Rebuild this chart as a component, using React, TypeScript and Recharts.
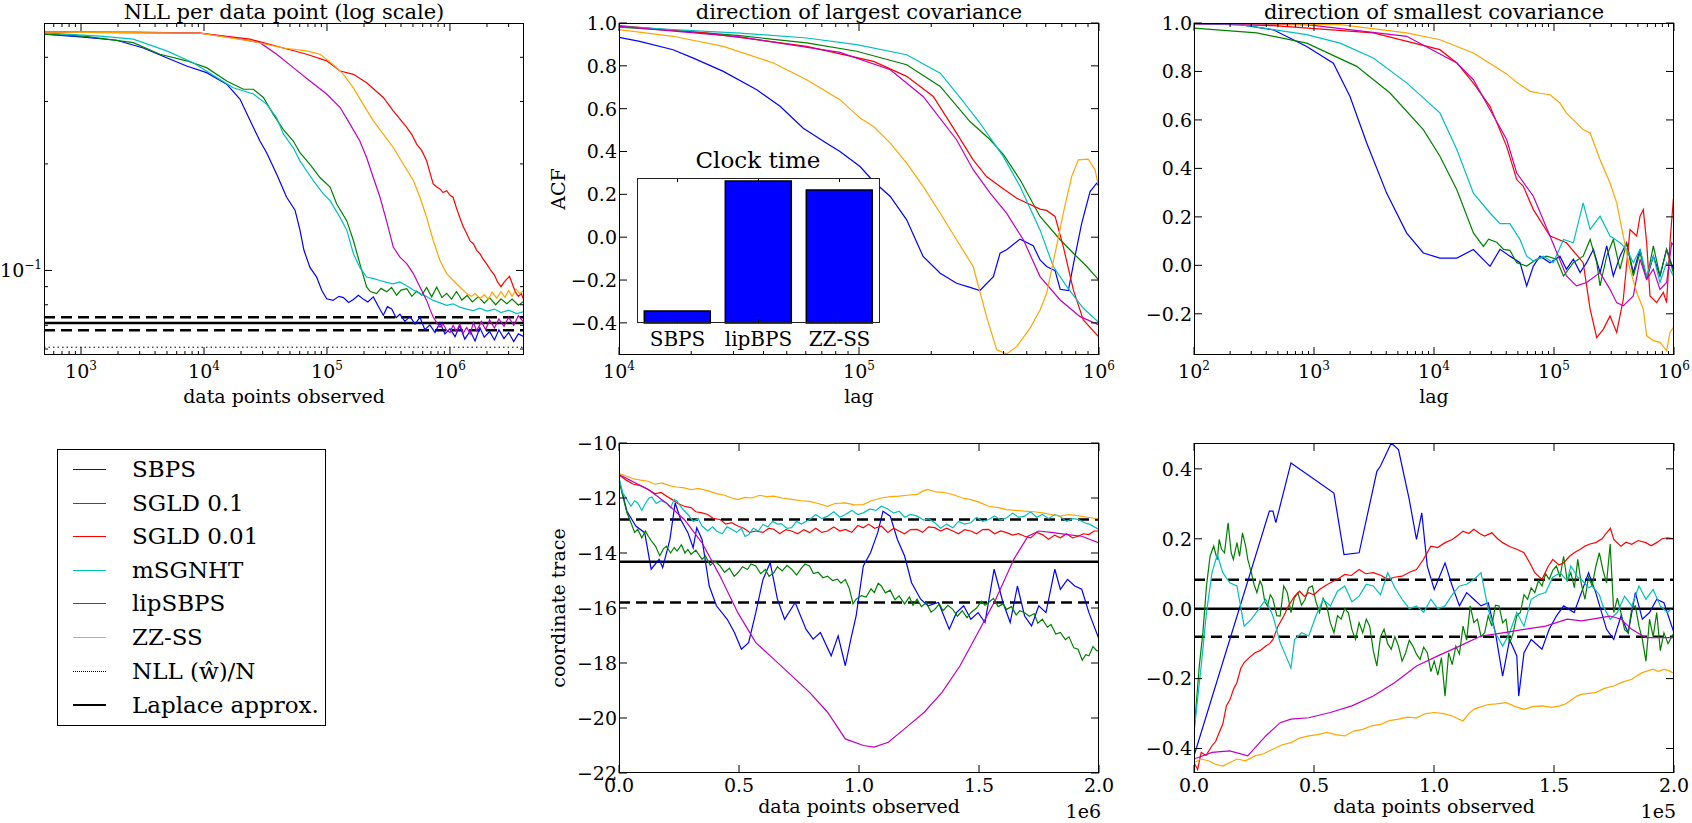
import React from 'react';
import { LineChart, Line, XAxis, YAxis, ReferenceLine, BarChart, Bar } from 'recharts';

const FONT = '"DejaVu Serif", "Liberation Serif", serif';
const C_SBPS = '#0000ff';
const C_SGLD1 = '#008000';
const C_SGLD01 = '#ff0000';
const C_MSGNHT = '#00bfbf';
const C_LIP = '#bf00bf';
const C_ZZ = '#ffa500';

type Pt = [number, number];

// ---- NLL per data point (log-log) ----
const nllSBPS: Pt[] = [
  [504, 0.465], [1045, 0.456], [1950, 0.447], [3210, 0.425], [4970, 0.399], [7220, 0.378], [10500, 0.362],
  [15300, 0.336], [19600, 0.305], [23700, 0.265], [28500, 0.232], [32300, 0.215], [39000, 0.187], [47000, 0.161],
  [55000, 0.148], [60300, 0.13], [65000, 0.114], [72700, 0.102], [82400, 0.0958], [90600, 0.0879], [99400, 0.0832],
  [112000, 0.0823], [125000, 0.0845], [136000, 0.0838], [150000, 0.0812], [164000, 0.0828], [180000, 0.0851],
  [197000, 0.083], [215000, 0.0815], [238000, 0.0842], [260000, 0.0795], [287000, 0.0747], [310000, 0.079],
  [336000, 0.0778], [365000, 0.0735], [392000, 0.0752], [430000, 0.0718], [473000, 0.0742], [520000, 0.0705],
  [570000, 0.0738], [625000, 0.068], [687000, 0.0702], [755000, 0.0668], [830000, 0.0712], [910000, 0.0662],
  [1.0e6, 0.0685], [1.1e6, 0.065], [1.2e6, 0.0698], [1.32e6, 0.064], [1.46e6, 0.0675], [1.6e6, 0.0632],
  [1.75e6, 0.069], [1.9e6, 0.0648], [2.1e6, 0.0672], [2.3e6, 0.0636], [2.5e6, 0.068], [2.75e6, 0.0642],
  [3.0e6, 0.0668], [3.3e6, 0.063], [3.6e6, 0.0662], [4.0e6, 0.065],
];
const nllSGLD1: Pt[] = [
  [504, 0.465], [1045, 0.459], [1620, 0.45], [2660, 0.44], [4380, 0.408], [7220, 0.391], [10500, 0.374],
  [15300, 0.343], [20900, 0.325], [25200, 0.325], [30400, 0.308], [36600, 0.276], [44200, 0.25], [53200, 0.232],
  [60300, 0.215], [72700, 0.1995], [87700, 0.183], [106000, 0.172], [120000, 0.154], [145000, 0.138],
  [164000, 0.1215], [185000, 0.1045], [210000, 0.0898], [225000, 0.0872], [253000, 0.086], [275000, 0.089],
  [305000, 0.087], [335000, 0.0895], [368000, 0.0851], [400000, 0.088], [445000, 0.0888], [490000, 0.0845],
  [536000, 0.0875], [590000, 0.0852], [646000, 0.0895], [710000, 0.0842], [780000, 0.0898], [860000, 0.0838],
  [940000, 0.0862], [1.03e6, 0.083], [1.13e6, 0.0872], [1.25e6, 0.0825], [1.38e6, 0.085], [1.52e6, 0.0815],
  [1.7e6, 0.0842], [1.9e6, 0.0808], [2.1e6, 0.0838], [2.35e6, 0.08], [2.6e6, 0.0832], [2.9e6, 0.0805],
  [3.2e6, 0.083], [3.6e6, 0.0798], [4.0e6, 0.0818],
];
const nllSGLD01: Pt[] = [
  [504, 0.471], [9270, 0.468], [23700, 0.45], [44200, 0.425], [68400, 0.408], [99400, 0.391], [128000, 0.366],
  [164000, 0.358], [210000, 0.339], [287000, 0.308], [346000, 0.2825], [445000, 0.2535], [490000, 0.242],
  [536000, 0.2275], [590000, 0.218], [646000, 0.204], [690000, 0.188], [731000, 0.1755], [780000, 0.172],
  [830000, 0.17], [880000, 0.166], [940000, 0.168], [1.0e6, 0.163], [1.06e6, 0.161], [1.13e6, 0.15],
  [1.2e6, 0.1413], [1.28e6, 0.133], [1.37e6, 0.127], [1.46e6, 0.121], [1.55e6, 0.119], [1.65e6, 0.114],
  [1.75e6, 0.1115], [1.85e6, 0.108], [2.0e6, 0.104], [2.15e6, 0.1], [2.3e6, 0.097], [2.45e6, 0.0925],
  [2.6e6, 0.09], [2.75e6, 0.0925], [2.9e6, 0.0945], [3.05e6, 0.0962], [3.2e6, 0.092], [3.4e6, 0.087],
  [3.6e6, 0.0845], [3.8e6, 0.086], [4.0e6, 0.0822],
];
const nllMSGNHT: Pt[] = [
  [504, 0.469], [1430, 0.459], [2660, 0.45], [4970, 0.417], [8180, 0.386], [12700, 0.351], [17300, 0.328],
  [25200, 0.315], [32300, 0.295], [39000, 0.27], [44200, 0.243], [53200, 0.222], [60300, 0.204], [68400, 0.191],
  [77400, 0.1794], [93400, 0.1645], [106000, 0.1575], [128000, 0.141], [145000, 0.13], [164000, 0.1115],
  [185000, 0.102], [210000, 0.0958], [240000, 0.0948], [270000, 0.0937], [305000, 0.0925], [346000, 0.0917],
  [390000, 0.0928], [445000, 0.0905], [500000, 0.0882], [570000, 0.086], [640000, 0.0845], [731000, 0.0823],
  [830000, 0.081], [940000, 0.0797], [1.06e6, 0.0805], [1.2e6, 0.0788], [1.37e6, 0.0778], [1.55e6, 0.077],
  [1.75e6, 0.0782], [2.0e6, 0.0768], [2.3e6, 0.0778], [2.6e6, 0.076], [3.0e6, 0.0772], [3.5e6, 0.0755],
  [4.0e6, 0.0765],
];
const nllLip: Pt[] = [
  [504, 0.471], [2660, 0.471], [9270, 0.468], [17300, 0.454], [28500, 0.44], [39000, 0.408], [53200, 0.374],
  [72700, 0.343], [99400, 0.315], [128000, 0.2885], [154000, 0.259], [185000, 0.232], [210000, 0.2085],
  [238000, 0.183], [270000, 0.161], [305000, 0.138], [346000, 0.1164], [392000, 0.109], [445000, 0.1045],
  [504000, 0.098], [570000, 0.0898], [646000, 0.0823], [690000, 0.0775], [731000, 0.0739], [780000, 0.0712],
  [830000, 0.0692], [880000, 0.0705], [940000, 0.0678], [1.0e6, 0.0668], [1.06e6, 0.07], [1.13e6, 0.0672],
  [1.2e6, 0.0705], [1.28e6, 0.0665], [1.37e6, 0.069], [1.46e6, 0.0662], [1.55e6, 0.0712], [1.65e6, 0.0675],
  [1.8e6, 0.0718], [1.95e6, 0.068], [2.1e6, 0.0725], [2.3e6, 0.0688], [2.5e6, 0.073], [2.75e6, 0.0695],
  [3.0e6, 0.0738], [3.3e6, 0.07], [3.6e6, 0.0745], [4.0e6, 0.0712],
];
const nllZZ: Pt[] = [
  [504, 0.471], [9270, 0.468], [23700, 0.445], [44200, 0.425], [68400, 0.417], [87700, 0.408], [112000, 0.382],
  [136000, 0.358], [164000, 0.328], [197000, 0.2945], [238000, 0.265], [287000, 0.2427], [346000, 0.2225],
  [418000, 0.1995], [504000, 0.1795], [570000, 0.161], [646000, 0.1413], [731000, 0.1215], [830000, 0.1067],
  [940000, 0.098], [1.13e6, 0.0917], [1.37e6, 0.086], [1.5e6, 0.0845], [1.6e6, 0.0862], [1.75e6, 0.0832],
  [1.9e6, 0.0855], [2.05e6, 0.0828], [2.2e6, 0.0868], [2.4e6, 0.0835], [2.6e6, 0.0872], [2.8e6, 0.084],
  [3.0e6, 0.0878], [3.2e6, 0.0845], [3.45e6, 0.0885], [3.7e6, 0.086], [4.0e6, 0.088],
];
const nllLaplace = 0.071;
const nllLaplaceBand = [0.0737, 0.0678];
const nllMode = 0.0607;

// ---- ACF, direction of largest covariance ----
const acfBigSBPS: Pt[] = [
  [1e4, 0.933], [12200, 0.914], [16800, 0.875], [20400, 0.836], [27200, 0.774], [37500, 0.688], [46900, 0.611],
  [58600, 0.509], [73300, 0.439], [83300, 0.4], [101000, 0.33], [115000, 0.26], [135000, 0.19], [158000, 0.081],
  [185000, -0.09], [218000, -0.168], [255000, -0.215], [290000, -0.234], [319000, -0.249], [363000, -0.184],
  [387000, -0.075], [412000, -0.059], [469000, -0.009], [532000, -0.04], [568000, -0.106], [605000, -0.137],
  [656000, -0.156], [689000, -0.243], [745000, -0.249], [794000, -0.09], [847000, 0.065], [918000, 0.213],
  [978000, 0.252], [1e6, 0.237],
];
const acfBigSGLD1: Pt[] = [
  [1e4, 0.981], [16800, 0.966], [31900, 0.941], [60500, 0.907], [97800, 0.868], [158000, 0.805], [218000, 0.704],
  [290000, 0.54], [352000, 0.455], [400000, 0.385], [469000, 0.268], [568000, 0.097], [689000, -0.012],
  [782000, -0.075], [889000, -0.137], [1e6, -0.2],
];
const acfBigSGLD01: Pt[] = [
  [1e4, 0.988], [23200, 0.953], [60500, 0.891], [115000, 0.821], [158000, 0.751], [204000, 0.657],
  [255000, 0.486], [299000, 0.361], [340000, 0.283], [387000, 0.237], [454000, 0.182], [568000, 0.131],
  [605000, 0.125], [656000, 0.097], [710000, -0.044], [782000, -0.246], [860000, -0.386], [1e6, -0.467],
];
const acfBigMSGNHT: Pt[] = [
  [1e4, 0.984], [16800, 0.969], [31900, 0.953], [60500, 0.93], [97800, 0.899], [158000, 0.852], [218000, 0.766],
  [268000, 0.642], [319000, 0.533], [399000, 0.377], [469000, 0.237], [568000, 0.034], [645000, -0.137],
  [733000, -0.23], [860000, -0.332], [1e6, -0.399],
];
const acfBigLip: Pt[] = [
  [1e4, 0.984], [31900, 0.935], [83300, 0.863], [135000, 0.782], [185000, 0.657], [255000, 0.455],
  [299000, 0.315], [352000, 0.206], [412000, 0.112], [484000, -0.012], [568000, -0.184], [689000, -0.293],
  [834000, -0.371], [1e6, -0.41],
];
const acfBigZZ: Pt[] = [
  [1e4, 0.969], [16800, 0.938], [27200, 0.891], [44000, 0.813], [60500, 0.735], [83300, 0.642], [101000, 0.556],
  [115000, 0.517], [135000, 0.439], [158000, 0.346], [185000, 0.237], [218000, 0.112], [255000, -0.012],
  [299000, -0.137], [340000, -0.371], [375000, -0.526], [412000, -0.545], [454000, -0.511], [516000, -0.425],
  [568000, -0.34], [605000, -0.262], [656000, -0.075], [710000, 0.112], [769000, 0.283], [820000, 0.361],
  [902000, 0.364], [962000, 0.315], [1e6, 0.229],
];

// ---- ACF, direction of smallest covariance ----
const acfSmallSBPS: Pt[] = [
  [100, 0.997], [242, 0.993], [458, 0.972], [869, 0.903], [1450, 0.834], [1995, 0.697], [2750, 0.505],
  [4030, 0.298], [5920, 0.133], [8150, 0.051], [11200, 0.03], [15500, 0.03], [21300, 0.065], [29300, -0.004],
  [35500, 0.066], [42900, 0.038], [52100, 0.011], [59200, -0.085], [67300, -0.003], [76400, 0.038],
  [92600, 0.011], [112000, 0.038], [127000, -0.016], [145000, 0.025], [165000, -0.03], [187000, 0.011],
  [213000, 0.066], [242000, -0.03], [275000, 0.08], [312000, -0.044], [355000, 0.038], [403000, 0.093],
  [458000, -0.03], [521000, 0.066], [592000, -0.058], [673000, 0.038], [764000, -0.044], [868000, 0.066],
  [987000, -0.016], [1e6, 0.0],
];
const acfSmallSGLD1: Pt[] = [
  [100, 0.979], [333, 0.959], [869, 0.917], [2270, 0.821], [4300, 0.711], [8150, 0.56], [11200, 0.45],
  [15500, 0.312], [21300, 0.134], [25800, 0.078], [28500, 0.108], [33300, 0.095], [38000, 0.066],
  [42900, 0.062], [48900, 0.011], [59200, -0.003], [71700, 0.025], [86900, 0.038], [105000, 0.025],
  [120000, -0.044], [145000, 0.011], [175000, 0.038], [200000, 0.107], [227000, 0.011], [242000, -0.085],
  [275000, 0.038], [312000, 0.107], [355000, -0.016], [403000, 0.093], [458000, -0.044], [521000, 0.052],
  [592000, -0.058], [673000, 0.08], [764000, -0.044], [868000, 0.066], [987000, -0.03], [1e6, 0.0],
];
const acfSmallSGLD01: Pt[] = [
  [100, 0.997], [458, 0.989], [3120, 0.959], [11200, 0.89], [15500, 0.835], [21300, 0.752], [29300, 0.656],
  [40300, 0.491], [48900, 0.354], [55500, 0.326], [67300, 0.23], [92600, 0.121], [127000, 0.093],
  [175000, 0.011], [200000, -0.181], [227000, -0.298], [258000, -0.263], [293000, -0.209], [333000, -0.277],
  [378000, -0.14], [430000, 0.148], [489000, 0.121], [521000, 0.203], [555000, 0.23], [592000, 0.093],
  [631000, -0.126], [717000, -0.154], [815000, -0.112], [868000, -0.154], [926000, 0.093], [987000, 0.272],
  [1e6, 0.28],
];
const acfSmallMSGNHT: Pt[] = [
  [100, 0.997], [242, 0.993], [869, 0.952], [1650, 0.917], [3120, 0.856], [5920, 0.753], [11200, 0.629],
  [15500, 0.478], [21300, 0.298], [29300, 0.216], [35500, 0.172], [42900, 0.172], [52100, 0.106],
  [59200, 0.038], [67300, 0.018], [81500, 0.038], [98700, 0.011], [120000, 0.107], [145000, 0.093],
  [175000, 0.258], [200000, 0.148], [242000, 0.203], [293000, 0.121], [355000, 0.093], [403000, 0.066],
  [458000, 0.011], [521000, 0.066], [592000, -0.044], [673000, 0.038], [764000, -0.071], [868000, 0.011],
  [987000, -0.044], [1e6, -0.03],
];
const acfSmallLip: Pt[] = [
  [100, 0.997], [869, 0.993], [5920, 0.945], [15500, 0.835], [21300, 0.766], [29300, 0.642], [40300, 0.519],
  [48900, 0.381], [67300, 0.285], [92600, 0.121], [127000, -0.044], [154000, -0.085], [187000, -0.071],
  [242000, -0.03], [293000, -0.099], [333000, -0.154], [378000, -0.167], [458000, -0.126], [521000, 0.025],
  [592000, -0.058], [673000, -0.016], [764000, -0.099], [868000, -0.071], [957000, 0.093], [1e6, 0.08],
];
const acfSmallZZ: Pt[] = [
  [100, 1.0], [1650, 0.993], [5920, 0.959], [11200, 0.931], [21300, 0.876], [30000, 0.83], [40300, 0.79],
  [48900, 0.755], [63100, 0.718], [76400, 0.71], [92600, 0.704], [112000, 0.67], [127000, 0.628],
  [175000, 0.56], [200000, 0.546], [242000, 0.436], [293000, 0.34], [333000, 0.258], [378000, 0.121],
  [430000, -0.016], [489000, -0.112], [555000, -0.181], [592000, -0.291], [673000, -0.311], [764000, -0.318],
  [868000, -0.353], [926000, -0.277], [987000, -0.257], [1e6, -0.25],
];

// ---- coordinate trace, largest covariance (x in units of 1e6) ----
const traceSBPS: Pt[] = [
  [0, -11.33], [0.033, -12.48], [0.07, -13.02], [0.107, -13.26], [0.134, -14.59], [0.167, -14.23], [0.182, -14.53],
  [0.212, -13.51], [0.234, -12.18], [0.257, -12.78], [0.287, -13.26], [0.309, -13.81], [0.324, -13.08],
  [0.346, -13.51], [0.376, -15.2], [0.406, -15.92], [0.451, -16.41], [0.481, -16.89], [0.51, -17.5],
  [0.54, -17.26], [0.57, -16.17], [0.6, -14.96], [0.63, -14.35], [0.66, -15.68], [0.69, -16.41], [0.734, -15.8],
  [0.779, -16.77], [0.809, -17.13], [0.839, -16.89], [0.884, -17.74], [0.913, -17.01], [0.943, -18.1],
  [0.966, -17.13], [0.988, -16.29], [1.018, -14.47], [1.048, -13.99], [1.078, -13.26], [1.1, -12.48],
  [1.13, -12.66], [1.16, -13.51], [1.19, -14.11], [1.219, -15.08], [1.257, -15.68], [1.287, -15.92],
  [1.331, -15.8], [1.376, -16.77], [1.406, -16.17], [1.436, -15.92], [1.466, -16.41], [1.496, -16.17],
  [1.525, -16.53], [1.563, -14.59], [1.6, -15.8], [1.63, -16.53], [1.66, -15.2], [1.69, -16.29], [1.719, -16.65],
  [1.749, -15.92], [1.779, -16.17], [1.816, -14.59], [1.839, -15.32], [1.869, -14.96], [1.899, -15.2],
  [1.928, -15.32], [1.958, -16.17], [2.0, -17.13],
];
const traceSGLD1: Pt[] = [
  [0, -11.33], [0.015, -11.9], [0.033, -12.54], [0.05, -12.9], [0.065, -13.25], [0.078, -13.14], [0.095, -13.45],
  [0.11, -13.2], [0.122, -13.39], [0.138, -13.6], [0.152, -13.75], [0.17, -14.1], [0.185, -13.85], [0.197, -13.75],
  [0.215, -14.0], [0.23, -13.8], [0.242, -13.93], [0.26, -13.7], [0.275, -14.0], [0.287, -13.87], [0.3, -14.05],
  [0.32, -13.9], [0.346, -14.23], [0.36, -14.1], [0.38, -14.45], [0.4, -14.3], [0.421, -14.47], [0.44, -14.7],
  [0.46, -14.55], [0.48, -14.85], [0.495, -14.72], [0.515, -14.5], [0.535, -14.6], [0.55, -14.4], [0.57, -14.47],
  [0.59, -14.75], [0.61, -14.6], [0.625, -14.85], [0.645, -14.72], [0.66, -14.5], [0.68, -14.65], [0.7, -14.45],
  [0.719, -14.59], [0.74, -14.8], [0.76, -14.55], [0.775, -14.4], [0.794, -14.47], [0.81, -14.75], [0.83, -14.7],
  [0.85, -14.9], [0.869, -14.84], [0.89, -15.0], [0.91, -14.95], [0.925, -15.1], [0.943, -14.96], [0.96, -15.3],
  [0.975, -15.85], [0.988, -15.68], [1.01, -15.55], [1.03, -15.6], [1.05, -15.3], [1.064, -15.44], [1.08, -15.1],
  [1.093, -15.2], [1.11, -15.45], [1.13, -15.35], [1.15, -15.7], [1.167, -15.56], [1.19, -15.85], [1.21, -15.6],
  [1.225, -15.9], [1.242, -15.68], [1.26, -15.95], [1.28, -15.8], [1.3, -16.15], [1.316, -16.05], [1.335, -15.85],
  [1.35, -16.1], [1.37, -15.9], [1.391, -16.05], [1.41, -16.3], [1.43, -16.1], [1.45, -16.35], [1.466, -16.17],
  [1.49, -16.0], [1.51, -15.75], [1.525, -15.9], [1.54, -15.8], [1.56, -15.65], [1.58, -15.95], [1.6, -15.85],
  [1.615, -16.05], [1.635, -15.95], [1.655, -16.25], [1.67, -16.1], [1.69, -16.17], [1.71, -16.3], [1.73, -16.2],
  [1.745, -16.55], [1.764, -16.41], [1.785, -16.7], [1.8, -16.6], [1.82, -16.95], [1.839, -16.89], [1.86, -17.15],
  [1.875, -17.05], [1.895, -17.45], [1.913, -17.5], [1.93, -17.9], [1.945, -17.7], [1.958, -17.74], [1.975, -17.4],
  [1.99, -17.55], [2.0, -17.56],
];
const traceSGLD01: Pt[] = [
  [0, -11.15], [0.03, -11.35], [0.06, -11.5], [0.09, -11.55], [0.122, -11.69], [0.15, -11.85], [0.175, -11.8],
  [0.197, -11.93], [0.22, -12.05], [0.245, -12.2], [0.272, -12.3], [0.3, -12.35], [0.32, -12.5], [0.346, -12.54],
  [0.37, -12.6], [0.395, -12.75], [0.421, -12.78], [0.445, -12.95], [0.47, -12.9], [0.495, -13.02], [0.52, -13.1],
  [0.545, -13.25], [0.57, -13.2], [0.6, -13.25], [0.625, -13.1], [0.645, -13.14], [0.67, -13.3], [0.695, -13.15],
  [0.719, -13.2], [0.745, -13.3], [0.77, -13.15], [0.794, -13.26], [0.82, -13.1], [0.845, -13.25], [0.869, -13.2],
  [0.895, -13.05], [0.92, -13.2], [0.943, -13.14], [0.97, -13.25], [0.995, -13.0], [1.018, -13.08], [1.04, -12.95],
  [1.065, -13.1], [1.093, -13.02], [1.12, -13.25], [1.145, -13.1], [1.167, -13.2], [1.19, -13.3], [1.215, -13.15],
  [1.242, -13.14], [1.265, -13.25], [1.29, -13.05], [1.316, -13.08], [1.34, -13.2], [1.365, -13.1], [1.391, -13.2],
  [1.415, -13.3], [1.44, -13.15], [1.466, -13.2], [1.49, -13.3], [1.515, -13.15], [1.54, -13.14], [1.565, -13.3],
  [1.59, -13.2], [1.615, -13.26], [1.64, -13.35], [1.665, -13.3], [1.69, -13.39], [1.715, -13.45], [1.74, -13.25],
  [1.764, -13.33], [1.79, -13.5], [1.815, -13.35], [1.839, -13.45], [1.865, -13.3], [1.89, -13.45], [1.913, -13.39],
  [1.935, -13.3], [1.958, -13.33], [1.98, -13.2], [2.0, -13.2],
];
const traceMSGNHT: Pt[] = [
  [0, -11.27], [0.015, -11.8], [0.033, -12.06], [0.05, -12.3], [0.065, -12.1], [0.078, -12.18], [0.095, -12.45],
  [0.11, -12.2], [0.125, -12.0], [0.137, -11.96], [0.155, -12.2], [0.175, -12.1], [0.197, -12.18], [0.215, -12.35],
  [0.23, -12.05], [0.242, -12.12], [0.265, -12.4], [0.287, -12.6], [0.31, -12.85], [0.33, -12.75], [0.346, -13.02],
  [0.37, -13.2], [0.39, -13.05], [0.406, -13.2], [0.43, -13.3], [0.45, -13.05], [0.466, -13.12], [0.49, -13.25],
  [0.51, -13.1], [0.525, -13.4], [0.54, -13.33], [0.56, -13.1], [0.58, -13.2], [0.6, -12.96], [0.62, -13.05],
  [0.64, -12.85], [0.66, -12.95], [0.675, -12.93], [0.7, -13.1], [0.719, -13.08], [0.74, -12.85], [0.76, -12.95],
  [0.794, -12.78], [0.82, -12.6], [0.845, -12.75], [0.869, -12.66], [0.895, -12.5], [0.92, -12.7], [0.943, -12.6],
  [0.97, -12.45], [0.995, -12.6], [1.018, -12.54], [1.045, -12.4], [1.07, -12.45], [1.093, -12.3], [1.12, -12.4],
  [1.145, -12.55], [1.167, -12.48], [1.19, -12.7], [1.215, -12.6], [1.242, -12.66], [1.27, -12.8], [1.29, -12.75],
  [1.316, -12.9], [1.34, -13.1], [1.365, -12.95], [1.391, -13.08], [1.415, -12.85], [1.44, -12.95], [1.466, -12.9],
  [1.49, -12.7], [1.515, -12.85], [1.54, -12.78], [1.565, -12.65], [1.59, -12.8], [1.615, -12.72], [1.64, -12.55],
  [1.665, -12.7], [1.69, -12.66], [1.715, -12.5], [1.74, -12.7], [1.764, -12.6], [1.79, -12.75], [1.815, -12.6],
  [1.839, -12.68], [1.865, -12.85], [1.89, -12.75], [1.913, -12.78], [1.94, -12.9], [1.96, -12.95], [1.98, -13.05],
  [2.0, -13.14],
];
const traceLip: Pt[] = [
  [0, -11.15], [0.122, -11.69], [0.197, -12.18], [0.272, -12.78], [0.346, -13.63], [0.421, -14.84], [0.495, -16.17],
  [0.57, -17.26], [0.645, -17.86], [0.719, -18.46], [0.794, -19.07], [0.869, -19.79], [0.943, -20.76],
  [1.018, -21.0], [1.063, -21.06], [1.122, -20.88], [1.197, -20.34], [1.272, -19.79], [1.346, -19.07],
  [1.421, -18.1], [1.496, -16.89], [1.57, -15.68], [1.645, -14.23], [1.704, -13.39], [1.749, -13.2],
  [1.809, -13.26], [1.869, -13.33], [1.928, -13.39], [2.0, -13.63],
];
const traceZZ: Pt[] = [
  [0, -11.11], [0.03, -11.2], [0.06, -11.3], [0.09, -11.35], [0.122, -11.39], [0.15, -11.5], [0.18, -11.45],
  [0.21, -11.55], [0.24, -11.6], [0.272, -11.63], [0.3, -11.7], [0.33, -11.65], [0.376, -11.75], [0.41, -11.85],
  [0.44, -11.9], [0.47, -12.0], [0.495, -12.06], [0.525, -11.98], [0.555, -12.0], [0.585, -11.9], [0.615, -11.95],
  [0.645, -11.93], [0.68, -12.0], [0.72, -12.05], [0.76, -12.1], [0.794, -12.12], [0.83, -12.2], [0.869, -12.3],
  [0.9, -12.2], [0.943, -12.18], [0.98, -12.25], [1.018, -12.24], [1.05, -12.1], [1.093, -12.0], [1.13, -11.95],
  [1.167, -11.93], [1.2, -11.9], [1.242, -11.87], [1.265, -11.75], [1.287, -11.69], [1.32, -11.78], [1.361, -11.81],
  [1.4, -11.9], [1.43, -12.0], [1.466, -12.06], [1.5, -12.15], [1.54, -12.3], [1.58, -12.35], [1.615, -12.42],
  [1.65, -12.45], [1.69, -12.48], [1.73, -12.5], [1.764, -12.54], [1.8, -12.6], [1.839, -12.66], [1.875, -12.6],
  [1.913, -12.64], [1.95, -12.7], [2.0, -12.76],
];
const traceLaplace = -14.32;
const traceLaplaceBand = [-12.78, -15.8];

// ---- coordinate trace, smallest covariance (x in units of 1e5) ----
const resSBPS: Pt[] = [
  [0, -0.421], [0.314, 0.279], [0.329, 0.279], [0.341, 0.246], [0.404, 0.417], [0.583, 0.331], [0.625, 0.155],
  [0.688, 0.16], [0.762, 0.393], [0.777, 0.408], [0.822, 0.474], [0.852, 0.455], [0.897, 0.312], [0.927, 0.198],
  [0.949, 0.274], [0.972, 0.122], [1.001, 0.055], [1.046, 0.131], [1.076, 0.065], [1.106, 0.008], [1.136, 0.046],
  [1.166, 0.027], [1.196, 0.008], [1.226, 0.017], [1.256, -0.069], [1.286, -0.193], [1.315, -0.088],
  [1.345, -0.135], [1.353, -0.25], [1.375, -0.126], [1.405, -0.088], [1.45, -0.116], [1.48, -0.059],
  [1.51, -0.021], [1.54, 0.008], [1.584, -0.011], [1.614, 0.046], [1.644, 0.103], [1.674, 0.046], [1.719, -0.059],
  [1.749, -0.088], [1.779, -0.021], [1.809, -0.069], [1.839, 0.046], [1.868, -0.03], [1.898, -0.011],
  [1.928, 0.027], [1.958, 0.017], [2.0, -0.069],
];
const resSGLD1: Pt[] = [
  [0, -0.354], [0.022, -0.164], [0.037, -0.069], [0.052, 0.065], [0.067, 0.15], [0.082, 0.179], [0.097, 0.14],
  [0.105, 0.198], [0.115, 0.17], [0.127, 0.16], [0.142, 0.246], [0.155, 0.16], [0.164, 0.141], [0.179, 0.189],
  [0.19, 0.15], [0.202, 0.217], [0.215, 0.18], [0.224, 0.141], [0.239, 0.103], [0.25, 0.07], [0.262, 0.046],
  [0.275, 0.08], [0.284, 0.065], [0.295, 0.02], [0.306, 0.008], [0.318, 0.04], [0.329, 0.027], [0.345, -0.02],
  [0.359, -0.021], [0.374, 0.065], [0.389, 0.046], [0.404, -0.011], [0.418, 0.03], [0.433, 0.046], [0.448, 0.01],
  [0.463, 0.027], [0.478, 0.06], [0.493, 0.065], [0.508, 0.02], [0.523, -0.011], [0.538, 0.03], [0.553, 0.008],
  [0.568, -0.04], [0.583, -0.069], [0.598, -0.02], [0.613, -0.03], [0.628, 0.0], [0.643, -0.011], [0.658, -0.06],
  [0.673, -0.088], [0.688, -0.04], [0.703, -0.069], [0.718, -0.03], [0.732, -0.05], [0.747, -0.12], [0.762, -0.164],
  [0.777, -0.08], [0.792, -0.059], [0.807, -0.1], [0.822, -0.116], [0.837, -0.08], [0.852, -0.107], [0.867, -0.15],
  [0.882, -0.126], [0.897, -0.09], [0.912, -0.107], [0.927, -0.13], [0.942, -0.145], [0.957, -0.11],
  [0.972, -0.126], [0.987, -0.18], [1.001, -0.15], [1.016, -0.19], [1.031, -0.14], [1.046, -0.25], [1.061, -0.126],
  [1.076, -0.16], [1.091, -0.107], [1.106, -0.13], [1.121, -0.05], [1.136, -0.09], [1.151, 0.008], [1.166, -0.04],
  [1.181, -0.03], [1.196, -0.08], [1.211, -0.069], [1.226, -0.02], [1.241, -0.05], [1.256, 0.01], [1.271, 0.008],
  [1.286, -0.04], [1.3, -0.03], [1.315, -0.1], [1.33, -0.069], [1.345, -0.02], [1.36, -0.011], [1.375, 0.04],
  [1.39, 0.027], [1.405, 0.06], [1.42, 0.046], [1.435, 0.08], [1.45, 0.065], [1.465, 0.1], [1.48, 0.084],
  [1.495, 0.11], [1.51, 0.122], [1.525, 0.09], [1.54, 0.15], [1.555, 0.08], [1.57, 0.103], [1.585, 0.06],
  [1.599, 0.141], [1.614, 0.07], [1.629, 0.027], [1.644, 0.09], [1.659, 0.065], [1.674, 0.12], [1.689, 0.16],
  [1.704, 0.11], [1.719, 0.074], [1.734, 0.185], [1.749, -0.011], [1.764, 0.03], [1.779, -0.011], [1.794, -0.06],
  [1.809, -0.069], [1.824, 0.0], [1.839, 0.008], [1.854, -0.05], [1.868, -0.088], [1.883, -0.15], [1.898, -0.03],
  [1.913, -0.08], [1.928, -0.011], [1.943, -0.12], [1.958, -0.069], [1.975, -0.1], [2.0, -0.069],
];
const resSGLD01: Pt[] = [
  [0, -0.44], [0.015, -0.46], [0.03, -0.411], [0.05, -0.42], [0.075, -0.392], [0.09, -0.38], [0.105, -0.354],
  [0.12, -0.33], [0.135, -0.278], [0.15, -0.26], [0.165, -0.23], [0.179, -0.211], [0.195, -0.17], [0.209, -0.154],
  [0.23, -0.14], [0.254, -0.126], [0.275, -0.12], [0.299, -0.107], [0.315, -0.1], [0.329, -0.088], [0.35, -0.05],
  [0.374, -0.021], [0.395, 0.01], [0.419, 0.036], [0.44, 0.05], [0.46, 0.035], [0.478, 0.046], [0.5, 0.04],
  [0.523, 0.055], [0.545, 0.065], [0.568, 0.074], [0.6, 0.085], [0.628, 0.098], [0.655, 0.095], [0.688, 0.112],
  [0.715, 0.1], [0.747, 0.103], [0.78, 0.095], [0.807, 0.084], [0.835, 0.09], [0.867, 0.093], [0.9, 0.105],
  [0.927, 0.112], [0.955, 0.14], [0.987, 0.179], [1.015, 0.175], [1.046, 0.189], [1.076, 0.198], [1.1, 0.21],
  [1.121, 0.222], [1.145, 0.215], [1.166, 0.227], [1.19, 0.215], [1.211, 0.208], [1.241, 0.217], [1.265, 0.2],
  [1.286, 0.189], [1.315, 0.178], [1.345, 0.17], [1.375, 0.16], [1.4, 0.13], [1.42, 0.103], [1.45, 0.084],
  [1.475, 0.12], [1.495, 0.141], [1.52, 0.125], [1.54, 0.131], [1.565, 0.15], [1.584, 0.16], [1.61, 0.17],
  [1.629, 0.179], [1.65, 0.185], [1.674, 0.189], [1.7, 0.2], [1.719, 0.217], [1.735, 0.23], [1.749, 0.198],
  [1.779, 0.179], [1.8, 0.19], [1.824, 0.184], [1.85, 0.195], [1.883, 0.189], [1.905, 0.18], [1.928, 0.189],
  [1.95, 0.2], [1.973, 0.203], [2.0, 0.2],
];
const resMSGNHT: Pt[] = [
  [0, -0.354], [0.03, -0.164], [0.052, -0.011], [0.075, 0.103], [0.097, 0.155], [0.12, 0.103], [0.149, 0.074],
  [0.179, 0.065], [0.209, -0.05], [0.239, -0.03], [0.269, -0.002], [0.299, 0.027], [0.329, -0.021],
  [0.359, -0.097], [0.389, -0.145], [0.404, -0.17], [0.419, -0.088], [0.448, -0.069], [0.478, -0.078],
  [0.508, -0.021], [0.538, 0.027], [0.568, 0.008], [0.598, 0.05], [0.628, 0.065], [0.658, 0.02], [0.688, 0.036],
  [0.718, 0.07], [0.747, 0.065], [0.777, 0.04], [0.807, 0.103], [0.837, 0.06], [0.867, 0.027], [0.897, 0.0],
  [0.927, 0.008], [0.957, -0.01], [0.987, 0.027], [1.016, 0.0], [1.046, 0.008], [1.076, 0.04], [1.106, 0.065],
  [1.136, 0.07], [1.166, 0.084], [1.196, 0.103], [1.226, -0.002], [1.256, -0.069], [1.286, -0.107],
  [1.315, -0.069], [1.345, -0.011], [1.375, -0.05], [1.405, 0.027], [1.435, 0.04], [1.465, 0.046], [1.495, 0.09],
  [1.525, 0.103], [1.555, 0.08], [1.57, 0.122], [1.599, 0.09], [1.614, 0.084], [1.644, 0.06], [1.659, 0.065],
  [1.689, 0.04], [1.704, 0.008], [1.734, -0.03], [1.764, -0.011], [1.794, 0.036], [1.824, 0.008], [1.854, 0.065],
  [1.883, 0.027], [1.913, 0.055], [1.943, 0.008], [1.973, -0.011], [2.0, 0.008],
];
const resLip: Pt[] = [
  [0, -0.43], [0.075, -0.411], [0.149, -0.407], [0.224, -0.421], [0.299, -0.364], [0.359, -0.326], [0.404, -0.316],
  [0.478, -0.312], [0.568, -0.297], [0.658, -0.278], [0.747, -0.25], [0.837, -0.211], [0.927, -0.164],
  [1.016, -0.135], [1.106, -0.107], [1.196, -0.078], [1.286, -0.069], [1.375, -0.059], [1.465, -0.05],
  [1.555, -0.03], [1.614, -0.035], [1.659, -0.03], [1.734, -0.021], [1.779, -0.03], [1.824, -0.059],
  [1.883, -0.083], [1.943, -0.083], [2.0, -0.083],
];
const resZZ: Pt[] = [
  [0, -0.44], [0.03, -0.43], [0.06, -0.435], [0.09, -0.445], [0.12, -0.45], [0.15, -0.44], [0.179, -0.43],
  [0.215, -0.435], [0.254, -0.421], [0.29, -0.415], [0.329, -0.402], [0.365, -0.39], [0.404, -0.383],
  [0.44, -0.37], [0.478, -0.364], [0.515, -0.36], [0.553, -0.354], [0.59, -0.36], [0.628, -0.364], [0.665, -0.35],
  [0.703, -0.345], [0.74, -0.335], [0.777, -0.331], [0.815, -0.32], [0.852, -0.316], [0.89, -0.31], [0.927, -0.312],
  [0.965, -0.3], [1.001, -0.297], [1.04, -0.3], [1.076, -0.307], [1.1, -0.315], [1.121, -0.321], [1.145, -0.3],
  [1.166, -0.288], [1.196, -0.28], [1.226, -0.274], [1.26, -0.272], [1.3, -0.269], [1.34, -0.28], [1.375, -0.288],
  [1.41, -0.28], [1.45, -0.278], [1.49, -0.282], [1.525, -0.278], [1.55, -0.272], [1.57, -0.262], [1.595, -0.25],
  [1.614, -0.245], [1.645, -0.242], [1.674, -0.24], [1.71, -0.228], [1.749, -0.221], [1.785, -0.21],
  [1.824, -0.202], [1.85, -0.19], [1.868, -0.183], [1.89, -0.178], [1.913, -0.173], [1.935, -0.18],
  [1.958, -0.173], [1.98, -0.178], [2.0, -0.185],
];
const resLaplace = 0;
const resLaplaceBand = [0.083, -0.08];

// ---- inset: clock time ----
const clockNames = ['SBPS', 'lipBPS', 'ZZ-SS'];
const clockValues = [0.083, 0.979, 0.917];

// ---- ticks ----
const nllXTicks = [600, 700, 800, 900, 1e3, 2e3, 3e3, 4e3, 5e3, 6e3, 7e3, 8e3, 9e3, 1e4, 2e4, 3e4, 4e4, 5e4, 6e4, 7e4,
  8e4, 9e4, 1e5, 2e5, 3e5, 4e5, 5e5, 6e5, 7e5, 8e5, 9e5, 1e6, 2e6, 3e6];
const nllXMajors = [1e3, 1e4, 1e5, 1e6];
const nllYTicks = [0.06, 0.07, 0.08, 0.09, 0.1, 0.2, 0.3, 0.4];
const nllYMajors = [0.1];
const lagBigTicks = [1e4, 2e4, 3e4, 4e4, 5e4, 6e4, 7e4, 8e4, 9e4, 1e5, 2e5, 3e5, 4e5, 5e5, 6e5, 7e5, 8e5, 9e5, 1e6];
const lagBigMajors = [1e4, 1e5, 1e6];
const lagSmallTicks = [100, 200, 300, 400, 500, 600, 700, 800, 900, 1e3, 2e3, 3e3, 4e3, 5e3, 6e3, 7e3, 8e3, 9e3, 1e4,
  2e4, 3e4, 4e4, 5e4, 6e4, 7e4, 8e4, 9e4, 1e5, 2e5, 3e5, 4e5, 5e5, 6e5, 7e5, 8e5, 9e5, 1e6];
const lagSmallMajors = [1e2, 1e3, 1e4, 1e5, 1e6];
const acfBigYTicks = [-0.4, -0.2, 0, 0.2, 0.4, 0.6, 0.8, 1.0];
const acfSmallYTicks = [-0.2, 0, 0.2, 0.4, 0.6, 0.8, 1.0];
const traceXTicks = [0, 0.5, 1.0, 1.5, 2.0];
const traceYTicks = [-22, -20, -18, -16, -14, -12, -10];
const resYTicks = [-0.4, -0.2, 0, 0.2, 0.4];

const legendLabels = ['SBPS', 'SGLD 0.1', 'SGLD 0.01', 'mSGNHT', 'lipSBPS', 'ZZ-SS', 'NLL (ŵ)/N', 'Laplace approx.'];
const legendColors = [C_SBPS, C_SGLD1, C_SGLD01, C_MSGNHT, C_LIP, C_ZZ, '#000', '#000'];

const TICK_FS = 19;

const minus = (s: string) => s.replace('-', '\u2212');
const fmt1 = (v: number) => minus(v.toFixed(1));
const fmt0 = (v: number) => minus(String(v));
const pow10 = (v: number) => {
  const e = Math.round(Math.log10(v));
  return (
    <>
      <tspan>10</tspan>
      <tspan dy={-8} fontSize={12}>{minus(String(e))}</tspan>
    </>
  );
};

type SeriesDef = { data: Pt[]; color: string };
type RefDef = { y: number; dashed?: boolean; dotted?: boolean };

interface PanelProps {
  left: number; top: number; w: number; h: number;
  xDomain: [number, number]; yDomain: [number, number];
  xLog?: boolean; yLog?: boolean;
  xTicks: number[]; xMajors: number[]; xFmt: (v: number) => React.ReactNode; xLabelDy: number;
  yTicks: number[]; yMajors: number[]; yFmt: (v: number) => React.ReactNode;
  series: SeriesDef[]; refs: RefDef[];
}

// chart margins around the plot area (the 1px axis bands are included in ML / MB)
const ML = 70, MT = 10, MR = 34, MB = 50;

function Panel(p: PanelProps) {
  const xMaj = new Set(p.xMajors);
  const yMaj = new Set(p.yMajors);
  const xTick = (t: any) => {
    const v = t.payload.value;
    const major = xMaj.has(v);
    const len = major ? 8 : 4;
    const y0 = t.y;
    return (
      <g>
        <line x1={t.x} x2={t.x} y1={y0} y2={y0 - len} stroke="#000" strokeWidth={1} />
        <line x1={t.x} x2={t.x} y1={y0 - p.h} y2={y0 - p.h + len} stroke="#000" strokeWidth={1} />
        {major && (
          <text x={t.x} y={y0 + p.xLabelDy} textAnchor="middle" fontSize={TICK_FS} fontFamily={FONT} fill="#000">
            {p.xFmt(v)}
          </text>
        )}
      </g>
    );
  };
  const yTick = (t: any) => {
    const v = t.payload.value;
    const major = yMaj.has(v);
    const len = major ? 8 : 4;
    const x0 = t.x;
    return (
      <g>
        <line x1={x0} x2={x0 + len} y1={t.y} y2={t.y} stroke="#000" strokeWidth={1} />
        <line x1={x0 + p.w} x2={x0 + p.w - len} y1={t.y} y2={t.y} stroke="#000" strokeWidth={1} />
        {major && (
          <text x={x0 - 2} y={t.y} dy="0.36em" textAnchor="end" fontSize={TICK_FS} fontFamily={FONT} fill="#000">
            {p.yFmt(v)}
          </text>
        )}
      </g>
    );
  };
  return (
    <div style={{ position: 'absolute', left: p.left - ML, top: p.top - MT }}>
      <LineChart width={p.w + ML + MR} height={p.h + MT + MB}
        margin={{ top: MT, right: MR, bottom: MB - 1, left: ML - 1 }}>
        <XAxis dataKey="x" type="number" scale={p.xLog ? 'log' : 'linear'} domain={p.xDomain} allowDataOverflow
          ticks={p.xTicks} interval={0} tick={xTick} tickLine={false} axisLine={false} tickSize={0} tickMargin={0}
          height={1} />
        <YAxis dataKey="y" type="number" scale={p.yLog ? 'log' : 'linear'} domain={p.yDomain} allowDataOverflow
          ticks={p.yTicks} interval={0} tick={yTick} tickLine={false} axisLine={false} tickSize={0} tickMargin={0}
          width={1} />
        {p.refs.map((r, i) => (
          <ReferenceLine key={'r' + i} y={r.y} stroke="#000" strokeWidth={r.dotted ? 1 : 2.5}
            strokeDasharray={r.dotted ? '1.5 3' : r.dashed ? '11 6' : undefined} />
        ))}
        {p.series.map((s, i) => (
          <Line key={'s' + i} data={s.data.map(([x, y]) => ({ x, y }))} dataKey="y" type="linear" stroke={s.color}
            strokeWidth={1.2} dot={false} activeDot={false} isAnimationActive={false} />
        ))}
      </LineChart>
      <div style={{ position: 'absolute', left: ML, top: MT, width: p.w, height: p.h, border: '1px solid #000',
        boxSizing: 'border-box', pointerEvents: 'none' }} />
    </div>
  );
}

function Txt({ x, base, size, children, anchor = 'middle' }: { x: number; base: number; size: number;
  children: React.ReactNode; anchor?: 'middle' | 'end' | 'start' }) {
  const tx = anchor === 'middle' ? 'translateX(-50%)' : anchor === 'end' ? 'translateX(-100%)' : 'none';
  return (
    <div style={{ position: 'absolute', left: x, top: base - 0.846 * size, fontSize: size, lineHeight: `${size}px`,
      transform: tx, whiteSpace: 'nowrap', fontFamily: FONT, color: '#000' }}>
      {children}
    </div>
  );
}

function VTxt({ x, y, size, children }: { x: number; y: number; size: number; children: React.ReactNode }) {
  return (
    <div style={{ position: 'absolute', left: x, top: y, fontSize: size, lineHeight: `${size}px`,
      transform: 'translate(-50%, -50%) rotate(-90deg)', whiteSpace: 'nowrap', fontFamily: FONT, color: '#000' }}>
      {children}
    </div>
  );
}

function ClockInset() {
  const data = clockNames.map((n, i) => ({ name: n, v: clockValues[i] }));
  const W = 243, H = 145;
  const tick = (t: any) => (
    <g>
      <line x1={t.x} x2={t.x} y1={t.y} y2={t.y - 4} stroke="#000" />
      <line x1={t.x} x2={t.x} y1={t.y - H} y2={t.y - H + 4} stroke="#000" />
      <text x={t.x} y={t.y + 23} textAnchor="middle" fontSize={20} fontFamily={FONT} fill="#000">{t.payload.value}</text>
    </g>
  );
  return (
    <>
      <div style={{ position: 'absolute', left: 637, top: 178, width: W, height: H, background: '#fff' }} />
      <div style={{ position: 'absolute', left: 637, top: 178 }}>
        <BarChart width={W} height={H + 32} data={data} margin={{ top: 0, right: 0, bottom: 31, left: 0 }}
          barCategoryGap="9%">
          <XAxis dataKey="name" height={1} tickSize={0} tickMargin={0} tickLine={false} axisLine={false}
            interval={0} tick={tick} />
          <YAxis hide domain={[0, 1]} />
          <Bar dataKey="v" fill="#0000ff" stroke="#000" strokeWidth={1.5} isAnimationActive={false} />
        </BarChart>
      </div>
      <div style={{ position: 'absolute', left: 637, top: 178, width: W, height: H, border: '1.5px solid #222',
        boxSizing: 'border-box' }} />
      <Txt x={758} base={168} size={23}>Clock time</Txt>
    </>
  );
}

function LegendBox() {
  const rowY = [468, 502, 535, 569, 602, 636, 670, 704];
  return (
    <div style={{ position: 'absolute', left: 57, top: 449, width: 269, height: 277, border: '1px solid #000',
      boxSizing: 'border-box', background: '#fff' }}>
      {legendLabels.map((lab, i) => {
        const cy = rowY[i] - 449;
        const dotted = i === 6;
        const thick = i === 7;
        return (
          <React.Fragment key={lab}>
            <div style={{ position: 'absolute', left: 15, top: cy - (thick ? 1.25 : 0.5), width: 33, height: 0,
              borderTop: `${thick ? 2.5 : 1}px ${dotted ? 'dotted' : 'solid'} ${legendColors[i]}` }} />
            <div style={{ position: 'absolute', left: 74, top: cy - 11.5, fontSize: 23, lineHeight: '23px',
              fontFamily: FONT, whiteSpace: 'nowrap' }}>{lab}</div>
          </React.Fragment>
        );
      })}
    </div>
  );
}

export default function App() {
  return (
    <div style={{ position: 'absolute', left: 0, top: 0, width: 1692, height: 823, background: '#fff',
      overflow: 'hidden', fontFamily: FONT }}>
      <Panel left={44} top={23} w={480} h={332} xLog yLog xDomain={[500, 4e6]} yDomain={[0.0577, 0.5]}
        xTicks={nllXTicks} xMajors={nllXMajors} xFmt={pow10} xLabelDy={23}
        yTicks={nllYTicks} yMajors={nllYMajors} yFmt={pow10}
        refs={[{ y: nllMode, dotted: true }, { y: nllLaplaceBand[0], dashed: true }, { y: nllLaplace },
          { y: nllLaplaceBand[1], dashed: true }]}
        series={[{ data: nllSBPS, color: C_SBPS }, { data: nllSGLD1, color: C_SGLD1 }, { data: nllSGLD01, color: C_SGLD01 },
          { data: nllMSGNHT, color: C_MSGNHT }, { data: nllLip, color: C_LIP }, { data: nllZZ, color: C_ZZ }]} />
      <Panel left={619} top={23} w={480} h={332} xLog xDomain={[1e4, 1e6]} yDomain={[-0.55, 1.0]}
        xTicks={lagBigTicks} xMajors={lagBigMajors} xFmt={pow10} xLabelDy={23}
        yTicks={acfBigYTicks} yMajors={acfBigYTicks} yFmt={fmt1} refs={[]}
        series={[{ data: acfBigSBPS, color: C_SBPS }, { data: acfBigSGLD1, color: C_SGLD1 },
          { data: acfBigSGLD01, color: C_SGLD01 }, { data: acfBigMSGNHT, color: C_MSGNHT },
          { data: acfBigLip, color: C_LIP }, { data: acfBigZZ, color: C_ZZ }]} />
      <Panel left={1194} top={23} w={480} h={332} xLog xDomain={[100, 1e6]} yDomain={[-0.37, 1.0]}
        xTicks={lagSmallTicks} xMajors={lagSmallMajors} xFmt={pow10} xLabelDy={23}
        yTicks={acfSmallYTicks} yMajors={acfSmallYTicks} yFmt={fmt1} refs={[]}
        series={[{ data: acfSmallSBPS, color: C_SBPS }, { data: acfSmallSGLD1, color: C_SGLD1 },
          { data: acfSmallSGLD01, color: C_SGLD01 }, { data: acfSmallMSGNHT, color: C_MSGNHT },
          { data: acfSmallLip, color: C_LIP }, { data: acfSmallZZ, color: C_ZZ }]} />
      <Panel left={619} top={443} w={480} h={330} xDomain={[0, 2]} yDomain={[-22, -10]}
        xTicks={traceXTicks} xMajors={traceXTicks} xFmt={fmt1} xLabelDy={19}
        yTicks={traceYTicks} yMajors={traceYTicks} yFmt={fmt0}
        refs={[{ y: traceLaplaceBand[0], dashed: true }, { y: traceLaplace }, { y: traceLaplaceBand[1], dashed: true }]}
        series={[{ data: traceSBPS, color: C_SBPS }, { data: traceSGLD1, color: C_SGLD1 },
          { data: traceSGLD01, color: C_SGLD01 }, { data: traceMSGNHT, color: C_MSGNHT },
          { data: traceLip, color: C_LIP }, { data: traceZZ, color: C_ZZ }]} />
      <Panel left={1194} top={443} w={480} h={330} xDomain={[0, 2]} yDomain={[-0.47, 0.474]}
        xTicks={traceXTicks} xMajors={traceXTicks} xFmt={fmt1} xLabelDy={19}
        yTicks={resYTicks} yMajors={resYTicks} yFmt={fmt1}
        refs={[{ y: resLaplaceBand[0], dashed: true }, { y: resLaplace }, { y: resLaplaceBand[1], dashed: true }]}
        series={[{ data: resSBPS, color: C_SBPS }, { data: resSGLD1, color: C_SGLD1 },
          { data: resSGLD01, color: C_SGLD01 }, { data: resMSGNHT, color: C_MSGNHT },
          { data: resLip, color: C_LIP }, { data: resZZ, color: C_ZZ }]} />

      <ClockInset />
      <LegendBox />

      <Txt x={284} base={20} size={21}>NLL per data point (log scale)</Txt>
      <Txt x={859} base={20} size={21}>direction of largest covariance</Txt>
      <Txt x={1434} base={20} size={21}>direction of smallest covariance</Txt>

      <Txt x={284} base={403} size={19}>data points observed</Txt>
      <Txt x={859} base={403} size={19}>lag</Txt>
      <Txt x={1434} base={403} size={19}>lag</Txt>
      <Txt x={859} base={813} size={19}>data points observed</Txt>
      <Txt x={1434} base={813} size={19}>data points observed</Txt>
      <Txt x={1101} base={818} size={19} anchor="end">1e6</Txt>
      <Txt x={1676} base={818} size={19} anchor="end">1e5</Txt>

      <VTxt x={558} y={189} size={19}>ACF</VTxt>
      <VTxt x={558} y={608} size={19}>coordinate trace</VTxt>
    </div>
  );
}
